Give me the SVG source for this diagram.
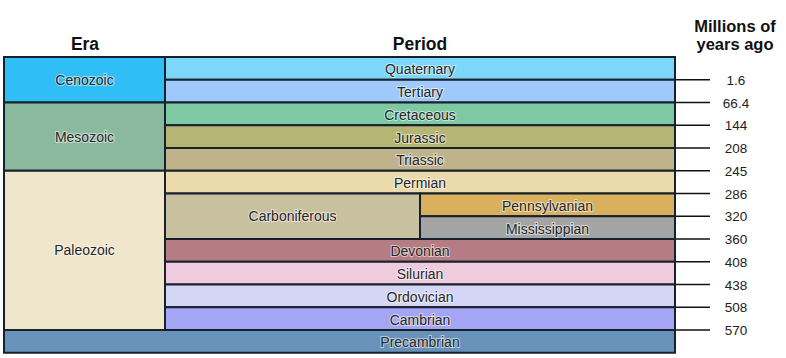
<svg xmlns="http://www.w3.org/2000/svg" width="786" height="358" viewBox="0 0 786 358">
<style>
.cell{stroke:#17212b;stroke-width:2}
.t{font-family:"Liberation Sans",Arial,sans-serif;font-size:14px;fill:#262626;text-anchor:middle;paint-order:stroke;stroke:#ffffff;stroke-opacity:0.55;stroke-width:2px}
.h{font-family:"Liberation Sans",Arial,sans-serif;font-size:17.5px;font-weight:bold;fill:#111;text-anchor:middle}
.h2{font-family:"Liberation Sans",Arial,sans-serif;font-size:16.5px;font-weight:bold;fill:#111;text-anchor:middle}
.n{font-family:"Liberation Sans",Arial,sans-serif;font-size:13.5px;fill:#222;text-anchor:middle}
.tick{stroke:#111;stroke-width:1.6}
</style>
<rect width="786" height="358" fill="#ffffff"/>
<g id="headers">
<text class="h" x="85" y="49.5">Era</text>
<text class="h" x="420" y="49.5">Period</text>
<text class="h2" x="735" y="31.5">Millions of</text>
<text class="h2" x="735" y="49.5">years ago</text>
</g>
<g id="connectors">
<line class="tick" x1="675" y1="79.75" x2="710" y2="79.75"/>
<line class="tick" x1="675" y1="102.5" x2="710" y2="102.5"/>
<line class="tick" x1="675" y1="125.25" x2="710" y2="125.25"/>
<line class="tick" x1="675" y1="148" x2="710" y2="148"/>
<line class="tick" x1="675" y1="170.75" x2="710" y2="170.75"/>
<line class="tick" x1="675" y1="193.5" x2="710" y2="193.5"/>
<line class="tick" x1="675" y1="216.25" x2="710" y2="216.25"/>
<line class="tick" x1="675" y1="239" x2="710" y2="239"/>
<line class="tick" x1="675" y1="261.75" x2="710" y2="261.75"/>
<line class="tick" x1="675" y1="284.5" x2="710" y2="284.5"/>
<line class="tick" x1="675" y1="307.25" x2="710" y2="307.25"/>
<line class="tick" x1="675" y1="330" x2="710" y2="330"/>
</g>
<g id="era-cenozoic"><rect class="cell" x="4" y="57" width="161" height="45.5" fill="#2fbef6"/><text class="t" x="84.5" y="85">Cenozoic</text></g>
<g id="era-mesozoic"><rect class="cell" x="4" y="102.5" width="161" height="68.25" fill="#8bb9a0"/><text class="t" x="84.5" y="142">Mesozoic</text></g>
<g id="era-paleozoic"><rect class="cell" x="4" y="170.75" width="161" height="159.25" fill="#efe6cc"/><text class="t" x="84.5" y="255">Paleozoic</text></g>
<g id="quaternary"><rect class="cell" x="165" y="57" width="510" height="22.75" fill="#7dd7fb"/><text class="t" x="420" y="74.4">Quaternary</text></g>
<g id="tertiary"><rect class="cell" x="165" y="79.75" width="510" height="22.75" fill="#9fc9fa"/><text class="t" x="420" y="97.1">Tertiary</text></g>
<g id="cretaceous"><rect class="cell" x="165" y="102.5" width="510" height="22.75" fill="#7dc9a3"/><text class="t" x="420" y="119.9">Cretaceous</text></g>
<g id="jurassic"><rect class="cell" x="165" y="125.25" width="510" height="22.75" fill="#b5b574"/><text class="t" x="420" y="142.6">Jurassic</text></g>
<g id="triassic"><rect class="cell" x="165" y="148" width="510" height="22.75" fill="#bfb38c"/><text class="t" x="420" y="165.4">Triassic</text></g>
<g id="permian"><rect class="cell" x="165" y="170.75" width="510" height="22.75" fill="#ebdbac"/><text class="t" x="420" y="188.1">Permian</text></g>
<g id="carboniferous"><rect class="cell" x="165" y="193.5" width="255" height="45.5" fill="#c9c09f"/><text class="t" x="292.5" y="221.2">Carboniferous</text></g>
<g id="pennsylvanian"><rect class="cell" x="420" y="193.5" width="255" height="22.75" fill="#d9b15e"/><text class="t" x="547.5" y="210.9">Pennsylvanian</text></g>
<g id="mississippian"><rect class="cell" x="420" y="216.25" width="255" height="22.75" fill="#a4a4a4"/><text class="t" x="547.5" y="233.6">Mississippian</text></g>
<g id="devonian"><rect class="cell" x="165" y="239" width="510" height="22.75" fill="#b57d83"/><text class="t" x="420" y="256.4">Devonian</text></g>
<g id="silurian"><rect class="cell" x="165" y="261.75" width="510" height="22.75" fill="#f0cbdd"/><text class="t" x="420" y="279.1">Silurian</text></g>
<g id="ordovician"><rect class="cell" x="165" y="284.5" width="510" height="22.75" fill="#d5d6f5"/><text class="t" x="420" y="301.9">Ordovician</text></g>
<g id="cambrian"><rect class="cell" x="165" y="307.25" width="510" height="22.75" fill="#a4a6f5"/><text class="t" x="420" y="324.6">Cambrian</text></g>
<g id="precambrian"><rect class="cell" x="4" y="330" width="671" height="22.75" fill="#6992ba"/><text class="t" x="420" y="347.4">Precambrian</text></g>
<g id="ages">
<text class="n" x="736" y="85">1.6</text>
<text class="n" x="736" y="107.5">66.4</text>
<text class="n" x="736" y="130.2">144</text>
<text class="n" x="736" y="153">208</text>
<text class="n" x="736" y="175.7">245</text>
<text class="n" x="736" y="198.5">286</text>
<text class="n" x="736" y="221.2">320</text>
<text class="n" x="736" y="244">360</text>
<text class="n" x="736" y="266.7">408</text>
<text class="n" x="736" y="289.5">438</text>
<text class="n" x="736" y="312.2">508</text>
<text class="n" x="736" y="335">570</text>
</g>
</svg>
